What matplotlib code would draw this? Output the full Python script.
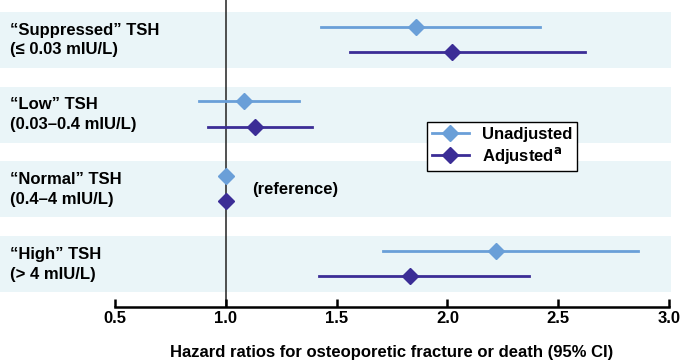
import numpy as np
import matplotlib.pyplot as plt
from matplotlib.lines import Line2D

plt.rcParams['font.family'] = ['Liberation Sans', 'DejaVu Sans']

# ------------------------------------------------------------------
# dati: HR e IC 95% per categoria di TSH
# ------------------------------------------------------------------
groups = ['\u201cSuppressed\u201d TSH\n(\u2264 0.03 mIU/L)',
          '\u201cLow\u201d TSH\n(0.03\u20130.4 mIU/L)',
          '\u201cNormal\u201d TSH\n(0.4\u20134 mIU/L)',
          '\u201cHigh\u201d TSH\n(> 4 mIU/L)']
unadj_hr = [1.86, 1.08, 1.00, 2.22]
unadj_lo = [1.43, 0.88, np.nan, 1.71]
unadj_hi = [2.42, 1.33, np.nan, 2.86]
adj_hr = [2.02, 1.13, 1.00, 1.83]
adj_lo = [1.56, 0.92, np.nan, 1.42]
adj_hi = [2.62, 1.39, np.nan, 2.37]
xticks = [0.5, 1.0, 1.5, 2.0, 2.5, 3.0]

c_unadj = '#6a9fd8'
c_adj = '#3b2d96'
band = '#eaf5f8'

fig = plt.figure(figsize=(6.85, 3.63), dpi=100)
ax = fig.add_axes([0, 0.154, 1, 0.846])

ypos = np.arange(len(groups))
for y in ypos:
    ax.axhspan(y - 0.375, y + 0.375, xmin=0, xmax=671 / 685, color=band, zorder=0, lw=0)

ax.axvline(1.0, color='#333333', lw=1.2, zorder=1)

for i, y in enumerate(ypos):
    yu, ya = y - 0.18, y + 0.16
    if not np.isnan(unadj_lo[i]):
        ax.plot([unadj_lo[i], unadj_hi[i]], [yu, yu], color=c_unadj, lw=2, zorder=2)
        ax.plot([adj_lo[i], adj_hi[i]], [ya, ya], color=c_adj, lw=2, zorder=2)
    ax.plot(unadj_hr[i], yu, 'D', color=c_unadj, ms=8, zorder=3)
    ax.plot(adj_hr[i], ya, 'D', color=c_adj, ms=8, zorder=3)
    ax.text(0.015, y, groups[i], transform=ax.get_yaxis_transform(),
            ha='left', va='center', fontsize=12, fontweight='bold', linespacing=1.4)

ax.text(1.12, 2.0, '(reference)', ha='left', va='center', fontsize=12, fontweight='bold')

ax.set_xlim(0.5 - 115 / 221.6, 0.5 + 570 / 221.6)
ax.set_ylim(3.574, -0.535)
ax.set_yticks([])
for s in ['top', 'right', 'left']:
    ax.spines[s].set_visible(False)
ax.spines['bottom'].set_bounds(0.5, 3.0)
ax.spines['bottom'].set_linewidth(1.8)
ax.set_xticks(xticks)
ax.set_xticklabels([f'{t:.1f}' for t in xticks], fontweight='bold', fontsize=12)
ax.tick_params(axis='x', direction='in', length=6, width=1.8, pad=3)
fig.text(392 / 685, 1 - 352 / 363,
         'Hazard ratios for osteoporetic fracture or death (95% CI)',
         ha='center', va='center', fontweight='bold', fontsize=12)

handles = [Line2D([], [], color=c_unadj, lw=2, marker='D', ms=8),
           Line2D([], [], color=c_adj, lw=2, marker='D', ms=8)]
leg = ax.legend(handles, ['Unadjusted', 'Adjusted$^{\\mathbf{a}}$'],
                loc='upper left', bbox_to_anchor=(427 / 685, 1 - 122 / 307),
                fancybox=False, edgecolor='black', framealpha=1,
                prop={'weight': 'bold', 'size': 12}, handlelength=2.2,
                borderpad=0.3, labelspacing=0.15, borderaxespad=0)
leg.get_frame().set_linewidth(1.0)

fig.savefig('out.png', dpi=100)
